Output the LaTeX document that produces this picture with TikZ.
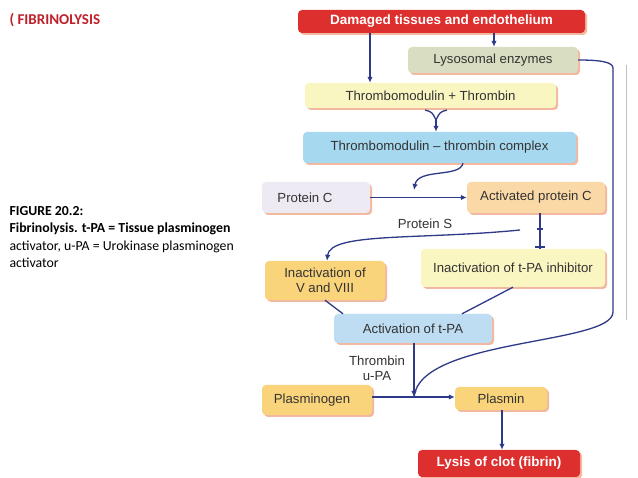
\documentclass[tikz,border=0pt]{standalone}
\usepackage{fontspec}
\setmainfont{Liberation Sans}
\newfontfamily\carlfont{Carlito}
\usetikzlibrary{arrows.meta}
\begin{document}
\begin{tikzpicture}[x=1pt,y=-1pt,
  box/.style={draw=none,rounded corners=4pt,inner sep=0pt,font=\fontsize{13.2}{15}\selectfont,text=black!80,align=center},
  arr/.style={draw=arblue,line width=1.3pt,-{Latex[length=6pt,width=5.5pt]}},
  ln/.style={draw=arblue,line width=1.3pt}]
\definecolor{arblue}{HTML}{2E3A87}
\definecolor{redbox}{HTML}{DE2F2F}
\definecolor{lyso}{HTML}{D9DDC2}
\definecolor{lyel}{HTML}{FAF6C2}
\definecolor{lblue}{HTML}{A6D8F0}
\definecolor{lav}{HTML}{EEEAF4}
\definecolor{peach}{HTML}{FAD9A6}
\definecolor{gold}{HTML}{FAD47A}
\definecolor{pblue}{HTML}{BFDDF2}
\definecolor{shad}{HTML}{F3B9A0}
\useasboundingbox (0,0) rectangle (638,478);
\fill[white] (0,0) rectangle (638,478);
\def\bx#1#2#3#4#5#6#7{%
  \fill[shad,rounded corners=4pt] (#2+2,#3+2) rectangle (#4+2,#5+2);
  \fill[#6,rounded corners=4pt] (#2,#3) rectangle (#4,#5);
  \node[box] (#1) at ({(#2+#4)/2},{(#3+#5)/2}) [minimum width={#4-#2},minimum height={#5-#3}] {#7};}
\bx{dam}{298}{10}{585}{33}{redbox}{\textcolor{white}{\bfseries\fontsize{13.5}{15}\selectfont Damaged tissues and endothelium}}
\bx{lys}{408}{47}{578}{73}{lyso}{Lysosomal enzymes}
\bx{tt}{305}{83}{556}{108}{lyel}{Thrombomodulin + Thrombin}
\bx{cx}{303}{132}{576}{163}{lblue}{Thrombomodulin -- thrombin complex}
\bx{pc}{262}{182}{370}{213}{lav}{Protein C\hspace{22pt}}
\bx{apc}{467}{182}{605}{213}{peach}{Activated protein C}
\bx{iv}{265}{261}{385}{300}{gold}{Inactivation of\\V and VIII}
\bx{ii}{421}{249}{605}{287}{lyel}{Inactivation of t-PA inhibitor}
\bx{at}{334}{314}{492}{343}{pblue}{Activation of t-PA}
\bx{pg}{262}{385}{372}{415}{gold}{Plasminogen\hspace{10pt}}
\bx{pl}{455}{387}{547}{410}{gold}{Plasmin}
\bx{ly}{418}{450}{580}{477}{redbox}{\textcolor{white}{\bfseries\fontsize{13.5}{15}\selectfont Lysis of clot (fibrin)}}
\coordinate (j) at (414,397);
\draw[arr] (dam.south -| 370,0) -- (tt.north -| 370,0);
\draw[arr] (dam.south -| 494,0) -- (lys.north -| 494,0);
\draw[ln] (425,110) .. controls (432,112) .. (436,120);
\draw[ln] (447,110) .. controls (440,112) .. (436,120);
\draw[arr] (436,118) -- (cx.north -| 436,0);
\coordinate (c1) at (414,190);
\draw[arr] (cx.south -| 463,0) .. controls (460,178) and (418,168) .. (c1);
\draw[arr] (pc.east) -- (apc.west);
\draw[ln] (apc.south -| 540,0) -- (ii.north -| 540,0);
\draw[ln] (535,247) -- (545,247);
\draw[ln] (537,229) -- (543,229);
\node[font=\fontsize{13.2}{15}\selectfont,text=black!80] (ps) at (425,224) {Protein S};
\coordinate (s0) at (520,230);
\draw[arr] (s0) .. controls (420,240) and (330,232) .. (iv.north -| 327,0);
\draw[ln] (iv.south -| 325,0) -- (at.north -| 343,0);
\draw[ln] (ii.south -| 513,0) -- (at.north -| 462,0);
\draw[line width=0.6pt,black!25] (626,65) -- (626,320);
\draw[ln] (lys.east) .. controls (600,60) and (613,62) .. (613,68) -- (613,312)
   .. controls (613,345) and (420,338) .. (j);
\draw[arr] (at.south -| 414,0) -- (j);
\node[font=\fontsize{13.2}{15}\selectfont,text=black!80,align=center] (tu) at (377,368) {Thrombin\\u-PA};
\draw[arr] (pg.east |- j) -- (pl.west |- j);
\draw[arr] (pl.south -| 502,0) -- (ly.north -| 502,0);
\node[anchor=west,font={\carlfont\bfseries\fontsize{15}{17}\selectfont},text={rgb,255:red,192;green,32;blue,42}] (title) at (6,20) {( FIBRINOLYSIS};
\node[anchor=north west,align=left,font={\carlfont\fontsize{13.8}{17.4}\selectfont},text=black] (cap) at (6,203) {\textbf{FIGURE 20.2:}\\\textbf{Fibrinolysis. t-PA = Tissue plasminogen}\\activator, u-PA = Urokinase plasminogen\\activator};
\end{tikzpicture}
\end{document}
